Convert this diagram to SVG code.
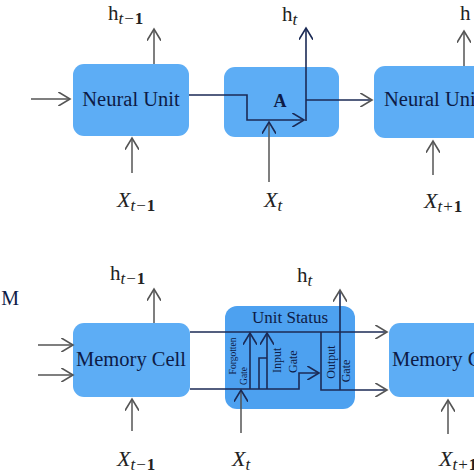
<svg xmlns="http://www.w3.org/2000/svg" width="474" height="474" viewBox="0 0 474 474">
<style>
.box{fill:#5dadf5}
.cell{fill:#4da1f0}
.t{font-family:"Liberation Serif","Times New Roman",serif;fill:#0d1b46}
.big{font-size:20.5px}
.lbl{font-family:"Liberation Serif","Times New Roman",serif;fill:#222;font-size:21px}
.x{font-style:italic;font-size:22px}
.sub{font-size:17px}
.it{font-style:italic}
.g{fill:none;stroke:#555;stroke-width:1.5}
.n{fill:none;stroke:#1b2a55;stroke-width:1.6}
.gate{font-family:"Liberation Serif","Times New Roman",serif;fill:#0d1b46}
</style>
<defs>
<marker id="ag" markerUnits="userSpaceOnUse" markerWidth="14" markerHeight="14" refX="10" refY="6" orient="auto" viewBox="0 0 12 12">
<path d="M0,0 L10,6 L0,12" fill="none" stroke="#555" stroke-width="1.4"/>
</marker>
<marker id="an" markerUnits="userSpaceOnUse" markerWidth="14" markerHeight="14" refX="10" refY="6" orient="auto" viewBox="0 0 12 12">
<path d="M0,0 L10,6 L0,12" fill="none" stroke="#1b2a55" stroke-width="1.4"/>
</marker>
</defs>
<rect width="474" height="474" fill="#fff"/>

<!-- top row nodes -->
<g id="neural1"><rect class="box" x="73" y="64" width="116" height="72" rx="11"/><text class="t big" x="131" y="106" text-anchor="middle">Neural Unit</text></g>
<g id="unitA"><rect class="box" x="224" y="67" width="115" height="70" rx="11"/><text class="t" x="280" y="107" text-anchor="middle" font-size="18" font-weight="bold">A</text></g>
<g id="neural3"><rect class="box" x="374" y="66" width="116" height="72" rx="11"/><text class="t big" x="384" y="106">Neural Unit</text></g>

<!-- bottom row nodes -->
<text class="t" x="19" y="305" text-anchor="end" font-size="20">M</text>
<g id="memory1"><rect class="box" x="73" y="323" width="117" height="74" rx="11"/><text class="t big" x="131" y="366" text-anchor="middle">Memory Cell</text></g>
<g id="lstm"><rect class="cell" x="225" y="306" width="130" height="103" rx="12"/>
<text class="t" x="290" y="323" text-anchor="middle" font-size="17">Unit Status</text>
<text class="gate" font-size="9.5" transform="translate(236,356) rotate(-90)" text-anchor="middle">Forgotten</text>
<text class="gate" font-size="9.5" transform="translate(247,376) rotate(-90)" text-anchor="middle">Gate</text>
<text class="gate" font-size="12" transform="translate(281,373) rotate(-90)">Input</text>
<text class="gate" font-size="12" transform="translate(297,373) rotate(-90)">Gate</text>
<text class="gate" font-size="12" transform="translate(335,362) rotate(-90)" text-anchor="middle">Output</text>
<text class="gate" font-size="12" transform="translate(350,371) rotate(-90)" text-anchor="middle">Gate</text>
</g>
<g id="memory3"><rect class="box" x="389" y="323" width="117" height="74" rx="11"/><text class="t big" x="392" y="366">Memory Cell</text></g>

<!-- connectors -->
<g id="connectors">
<line class="g" x1="31" y1="99" x2="70" y2="99" marker-end="url(#ag)"/>
<line class="g" x1="154" y1="64" x2="154" y2="29" marker-end="url(#ag)"/>
<line class="g" x1="132" y1="173" x2="132" y2="138" marker-end="url(#ag)"/>
<path class="n" d="M189,95 H247 V120 H304" marker-end="url(#an)"/>
<line class="n" x1="306" y1="121" x2="306" y2="28" marker-end="url(#an)"/>
<line class="n" x1="306" y1="100" x2="372" y2="100" marker-end="url(#ag)"/>
<line class="g" x1="269" y1="182" x2="269" y2="122" marker-end="url(#an)"/>
<line class="g" x1="433" y1="175" x2="433" y2="141" marker-end="url(#ag)"/>
<line class="g" x1="464" y1="66" x2="464" y2="31" marker-end="url(#ag)"/>

<line class="g" x1="38" y1="345" x2="73" y2="345" marker-end="url(#ag)"/>
<line class="g" x1="38" y1="375" x2="73" y2="375" marker-end="url(#ag)"/>
<line class="g" x1="154" y1="323" x2="154" y2="289" marker-end="url(#ag)"/>
<line class="g" x1="132" y1="431" x2="132" y2="399" marker-end="url(#ag)"/>
<line class="n" x1="190" y1="332" x2="387" y2="332" marker-end="url(#ag)"/>
<path class="n" d="M190,389 H299 V373 H319" marker-end="url(#an)"/>
<line class="n" x1="250" y1="389" x2="250" y2="333" marker-end="url(#an)"/>
<path class="n" d="M259,389 V358 H267"/>
<line class="n" x1="267" y1="389" x2="267" y2="333" marker-end="url(#an)"/>
<path class="n" d="M321,332 V390 H387" marker-end="url(#ag)"/>
<line class="n" x1="340" y1="390" x2="340" y2="290" marker-end="url(#ag)"/>
<line class="g" x1="241" y1="433" x2="241" y2="390" marker-end="url(#an)"/>
<line class="g" x1="448" y1="434" x2="448" y2="400" marker-end="url(#ag)"/>
</g>

<!-- labels -->
<text class="lbl" x="108" y="20">h<tspan class="sub it" dy="4">t</tspan><tspan class="sub" dx="1">−</tspan><tspan class="sub" font-weight="bold" dx="1">1</tspan></text>
<text class="lbl x" x="117" y="207">X<tspan class="sub" dy="4" font-style="italic">t</tspan><tspan class="sub" font-style="normal" dx="1">−</tspan><tspan class="sub" font-style="normal" font-weight="bold" dx="1">1</tspan></text>
<text class="lbl" x="282" y="21">h<tspan class="sub it" dy="4">t</tspan></text>
<text class="lbl x" x="264" y="207">X<tspan class="sub" dy="4">t</tspan></text>
<text class="lbl x" x="424" y="208">X<tspan class="sub" dy="4">t</tspan><tspan class="sub" font-style="normal" dx="1">+</tspan><tspan class="sub" font-style="normal" font-weight="bold" dx="1">1</tspan></text>
<text class="lbl" x="460" y="20">h</text>

<text class="lbl" x="110" y="280">h<tspan class="sub it" dy="4">t</tspan><tspan class="sub" dx="1">−</tspan><tspan class="sub" font-weight="bold" dx="1">1</tspan></text>
<text class="lbl x" x="117" y="466">X<tspan class="sub" dy="4">t</tspan><tspan class="sub" font-style="normal" dx="1">−</tspan><tspan class="sub" font-style="normal" font-weight="bold" dx="1">1</tspan></text>
<text class="lbl" x="297" y="282">h<tspan class="sub it" dy="4">t</tspan></text>
<text class="lbl x" x="232" y="466">X<tspan class="sub" dy="4">t</tspan></text>
<text class="lbl x" x="439" y="466">X<tspan class="sub" dy="4">t</tspan><tspan class="sub" font-style="normal" dx="1">+</tspan><tspan class="sub" font-style="normal" font-weight="bold" dx="1">1</tspan></text>
</svg>
